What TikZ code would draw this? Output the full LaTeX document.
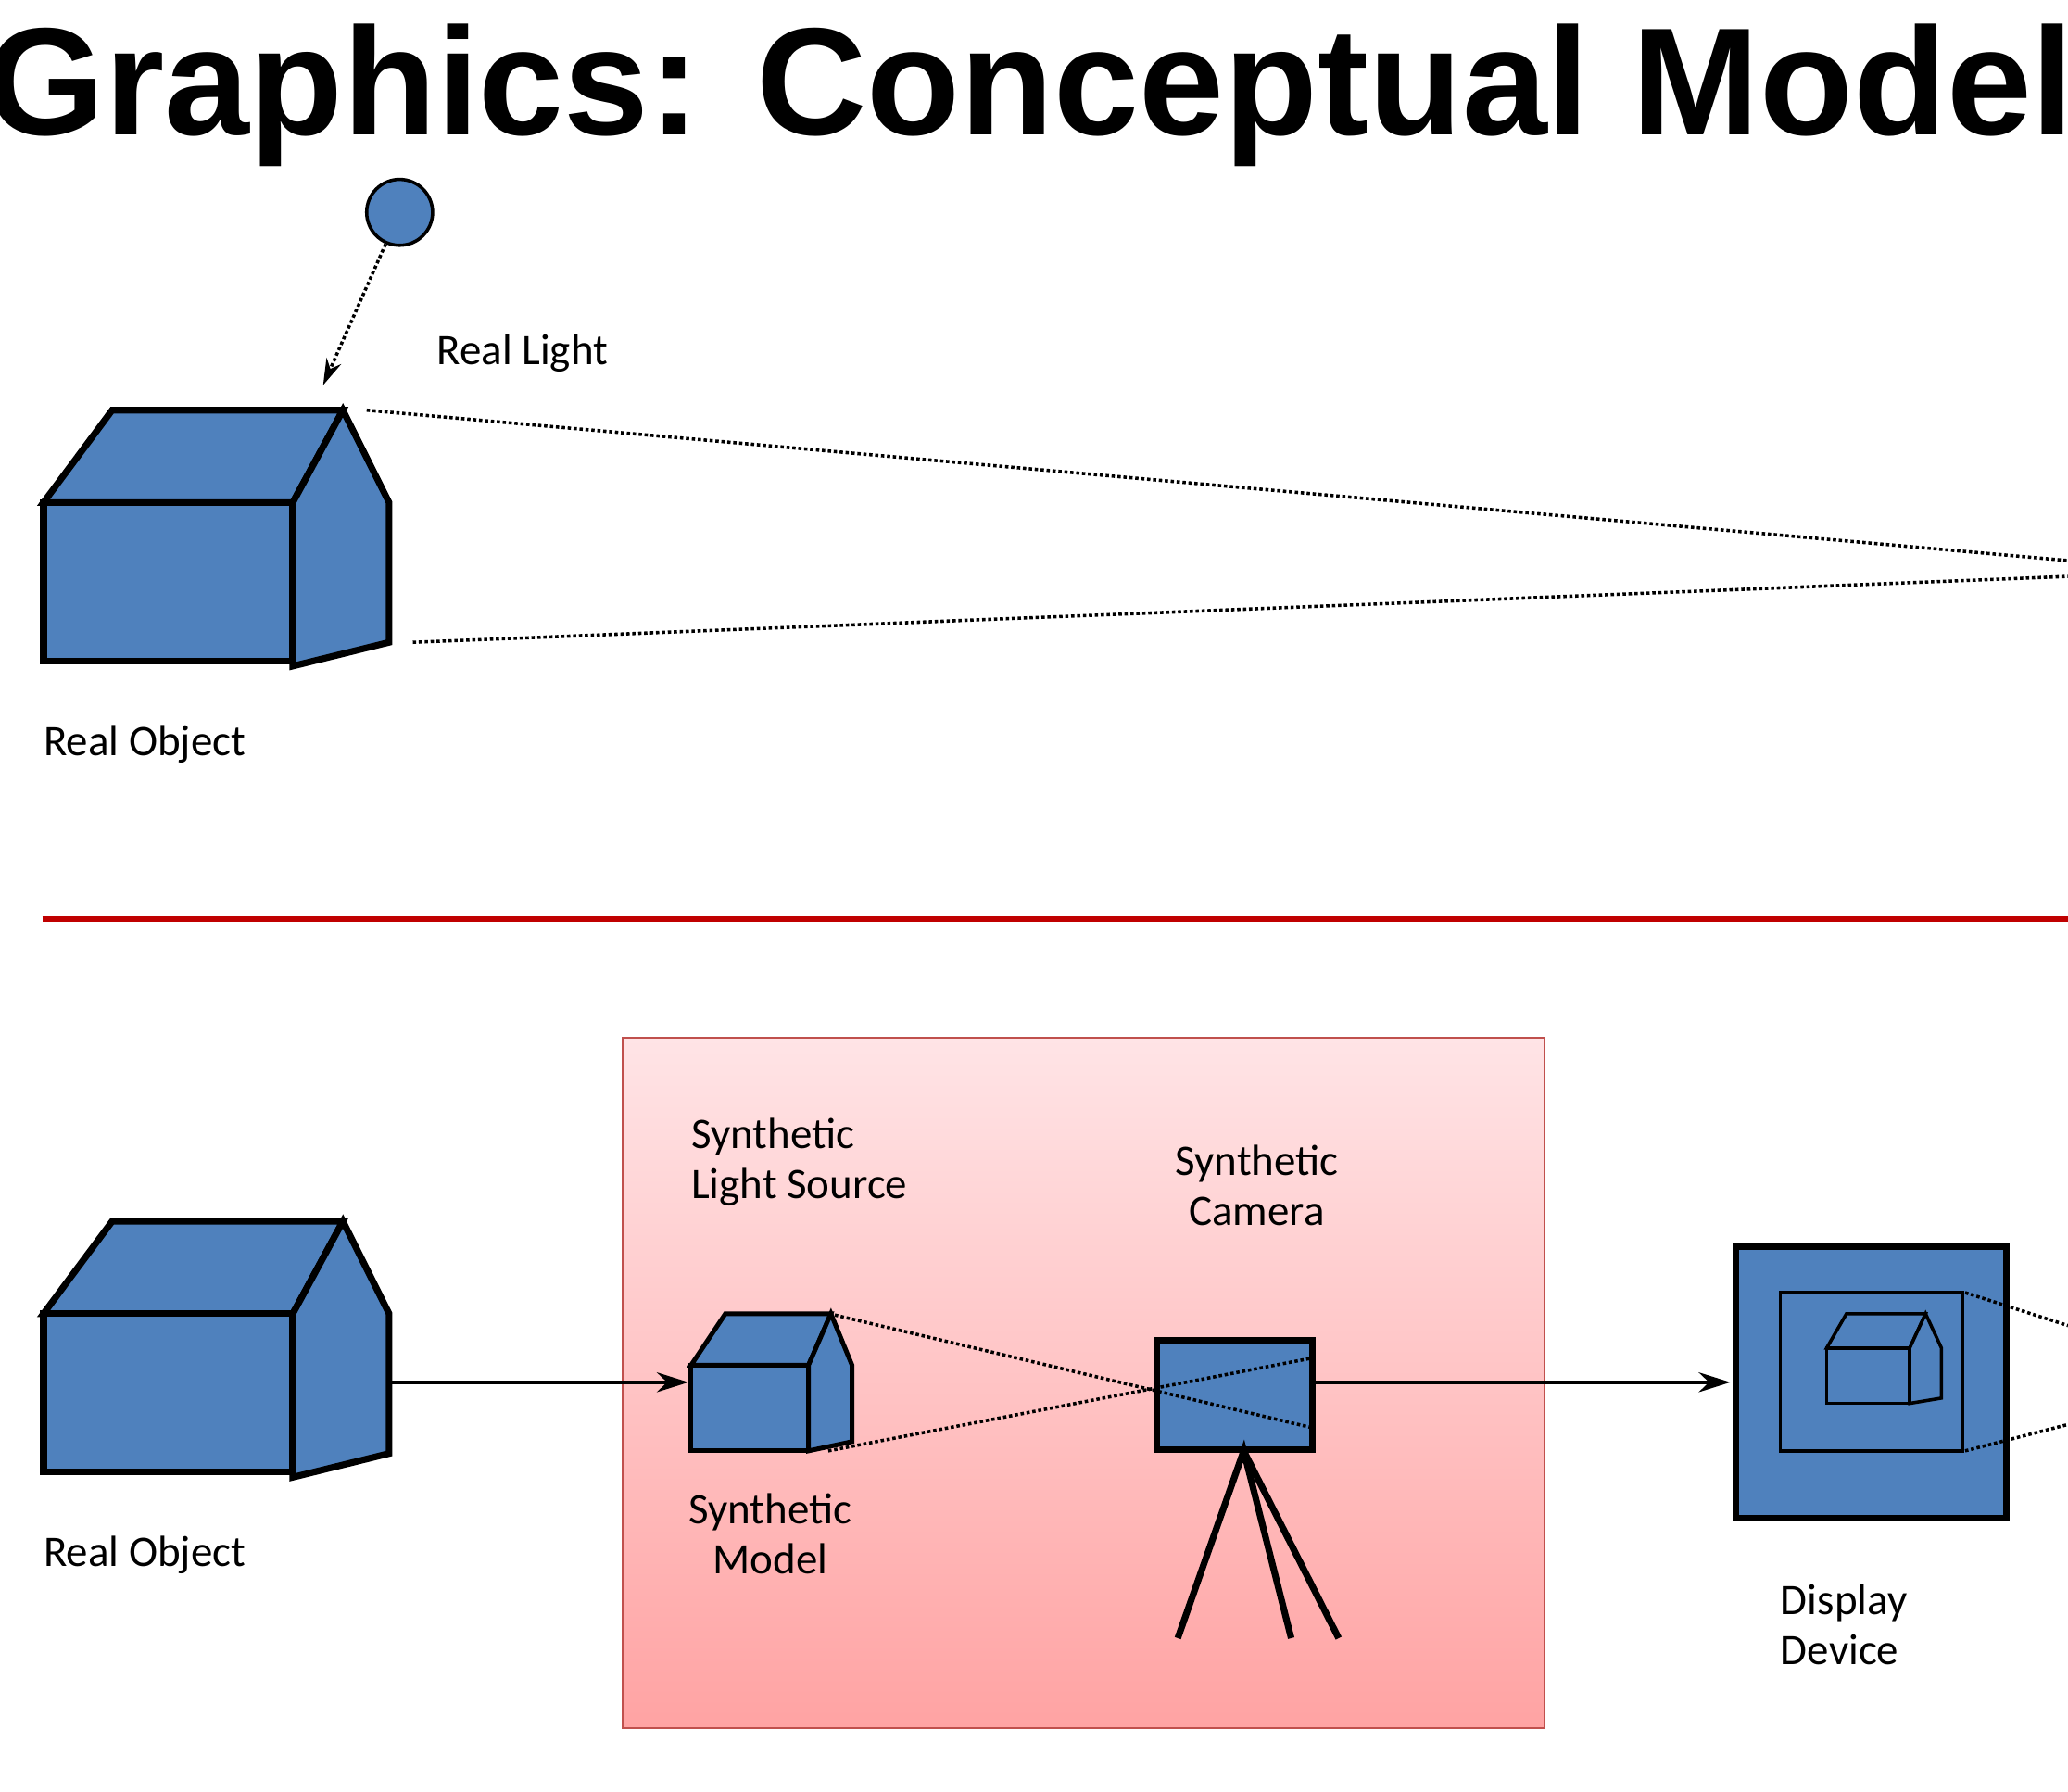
\documentclass[tikz,border=0pt]{standalone}
\usepackage{fontspec}
\setmainfont{Carlito}
\newfontfamily\titlefont{Liberation Sans}
\usetikzlibrary{arrows.meta}
\definecolor{hblue}{HTML}{4F81BD}
\definecolor{redline}{HTML}{C00000}
\begin{document}
\begin{tikzpicture}[x=1pt,y=-1pt,
  hs/.style={fill=hblue,draw=black,line width=5pt,line join=miter},
  dot/.style={dotted,line width=2.5pt},
  lbl/.style={anchor=west,font=\fontsize{33}{38}\selectfont,align=left,inner sep=0pt},
  arr/.style={line width=2.5pt,-{Stealth[length=24pt,width=15pt]}}]
\useasboundingbox (0,0) rectangle (1568,1358);
\node[font=\titlefont\bfseries\fontsize{116}{126}\selectfont,inner sep=0pt] (title) at (781,72) {Graphics: Conceptual Model};
% top scene
\node[circle,fill=hblue,draw=black,line width=2.5pt,minimum size=50pt,inner sep=0pt] (sun) at (303,161) {};
\coordinate (sunend) at (245,292);
\draw[dot,-{Stealth[length=20pt,width=12pt]}] (sun) -- (sunend);
\node[lbl] (rl) at (331,268) {Real Light};
\draw[hs] (33,381) -- (85,311) -- (260,311) -- (222,381) -- cycle;
\draw[hs] (222,381) -- (260,311) -- (295,381) -- (295,487) -- (222,505) -- cycle;
\draw[hs] (33,381) rectangle (222,501);
\coordinate (t1) at (278,311); \coordinate (t2) at (1568,425);
\coordinate (t3) at (313,487); \coordinate (t4) at (1568,437);
\draw[dot] (t1) -- (t2); \draw[dot] (t3) -- (t4);
\node[lbl] (ro1) at (33,564) {Real Object};
\coordinate (r1) at (32,697); \coordinate (r2) at (1568,697);
\draw[redline,line width=4pt] (r1) -- (r2);
% pink box
\shade[top color={rgb,255:red,255;green,228;blue,230},bottom color={rgb,255:red,255;green,163;blue,163}] (472,787) rectangle (1171,1310);
\draw[draw={rgb,255:red,192;green,80;blue,77},line width=1.5pt] (472,787) rectangle (1171,1310);
% bottom house
\draw[hs] (33,996) -- (85,926) -- (260,926) -- (222,996) -- cycle;
\draw[hs] (222,996) -- (260,926) -- (295,996) -- (295,1102) -- (222,1120) -- cycle;
\draw[hs] (33,996) rectangle (222,1116);
\node[lbl] (ro2) at (33,1179) {Real Object};
% small house
\draw[hs,line width=3.5pt] (524,1035) -- (550,996) -- (630,996) -- (613,1035) -- cycle;
\draw[hs,line width=3.5pt] (613,1035) -- (630,996) -- (646,1035) -- (646,1093) -- (613,1100) -- cycle;
\draw[hs,line width=3.5pt] (524,1035) rectangle (613,1100);
\node[lbl] (sls) at (524,881) {Synthetic\\Light Source};
\node[lbl,align=center,anchor=center] (sm) at (584,1163) {Synthetic\\Model};
% camera
\node[draw=black,fill=hblue,line width=5pt,minimum width=118pt,minimum height=83pt,inner sep=0pt] (cam) at (936,1057.5) {};
\coordinate (tp) at (943,1100);
\coordinate (l1) at (893,1242); \coordinate (l2) at (979,1242); \coordinate (l3) at (1015,1242);
\draw[line width=5pt] (l1) -- (tp) -- (l2); \draw[line width=5pt] (tp) -- (l3);
\coordinate (d1) at (633,997); \coordinate (d2) at (993,1082);
\coordinate (d3) at (628,1100); \coordinate (d4) at (993,1030);
\draw[dot] (d1) -- (d2); \draw[dot] (d3) -- (d4);
\node[lbl,align=center,anchor=center] (sc) at (953,899) {Synthetic\\Camera};
% arrows
\coordinate (a1) at (297,1048); \coordinate (a2) at (522,1048);
\coordinate (a3) at (997,1048); \coordinate (a4) at (1312,1048);
\draw[arr] (a1) -- (a2); \draw[arr] (a3) -- (a4);
% display
\draw[hs] (1316,945) rectangle (1521,1151);
\draw[line width=2.5pt] (1350,980) rectangle (1488,1100);
\draw[hs,line width=2.5pt] (1385,1022) -- (1400,996) -- (1460,996) -- (1448,1022) -- cycle;
\draw[hs,line width=2.5pt] (1448,1022) -- (1460,996) -- (1472,1022) -- (1472,1060) -- (1448,1064) -- cycle;
\draw[hs,line width=2.5pt] (1385,1022) rectangle (1448,1064);
\coordinate (e1) at (1490,980); \coordinate (e2) at (1568,1005);
\coordinate (e3) at (1490,1100); \coordinate (e4) at (1568,1080);
\draw[dot] (e1) -- (e2); \draw[dot] (e3) -- (e4);
\node[lbl] (dd) at (1350,1232) {Display\\Device};
\end{tikzpicture}
\end{document}
